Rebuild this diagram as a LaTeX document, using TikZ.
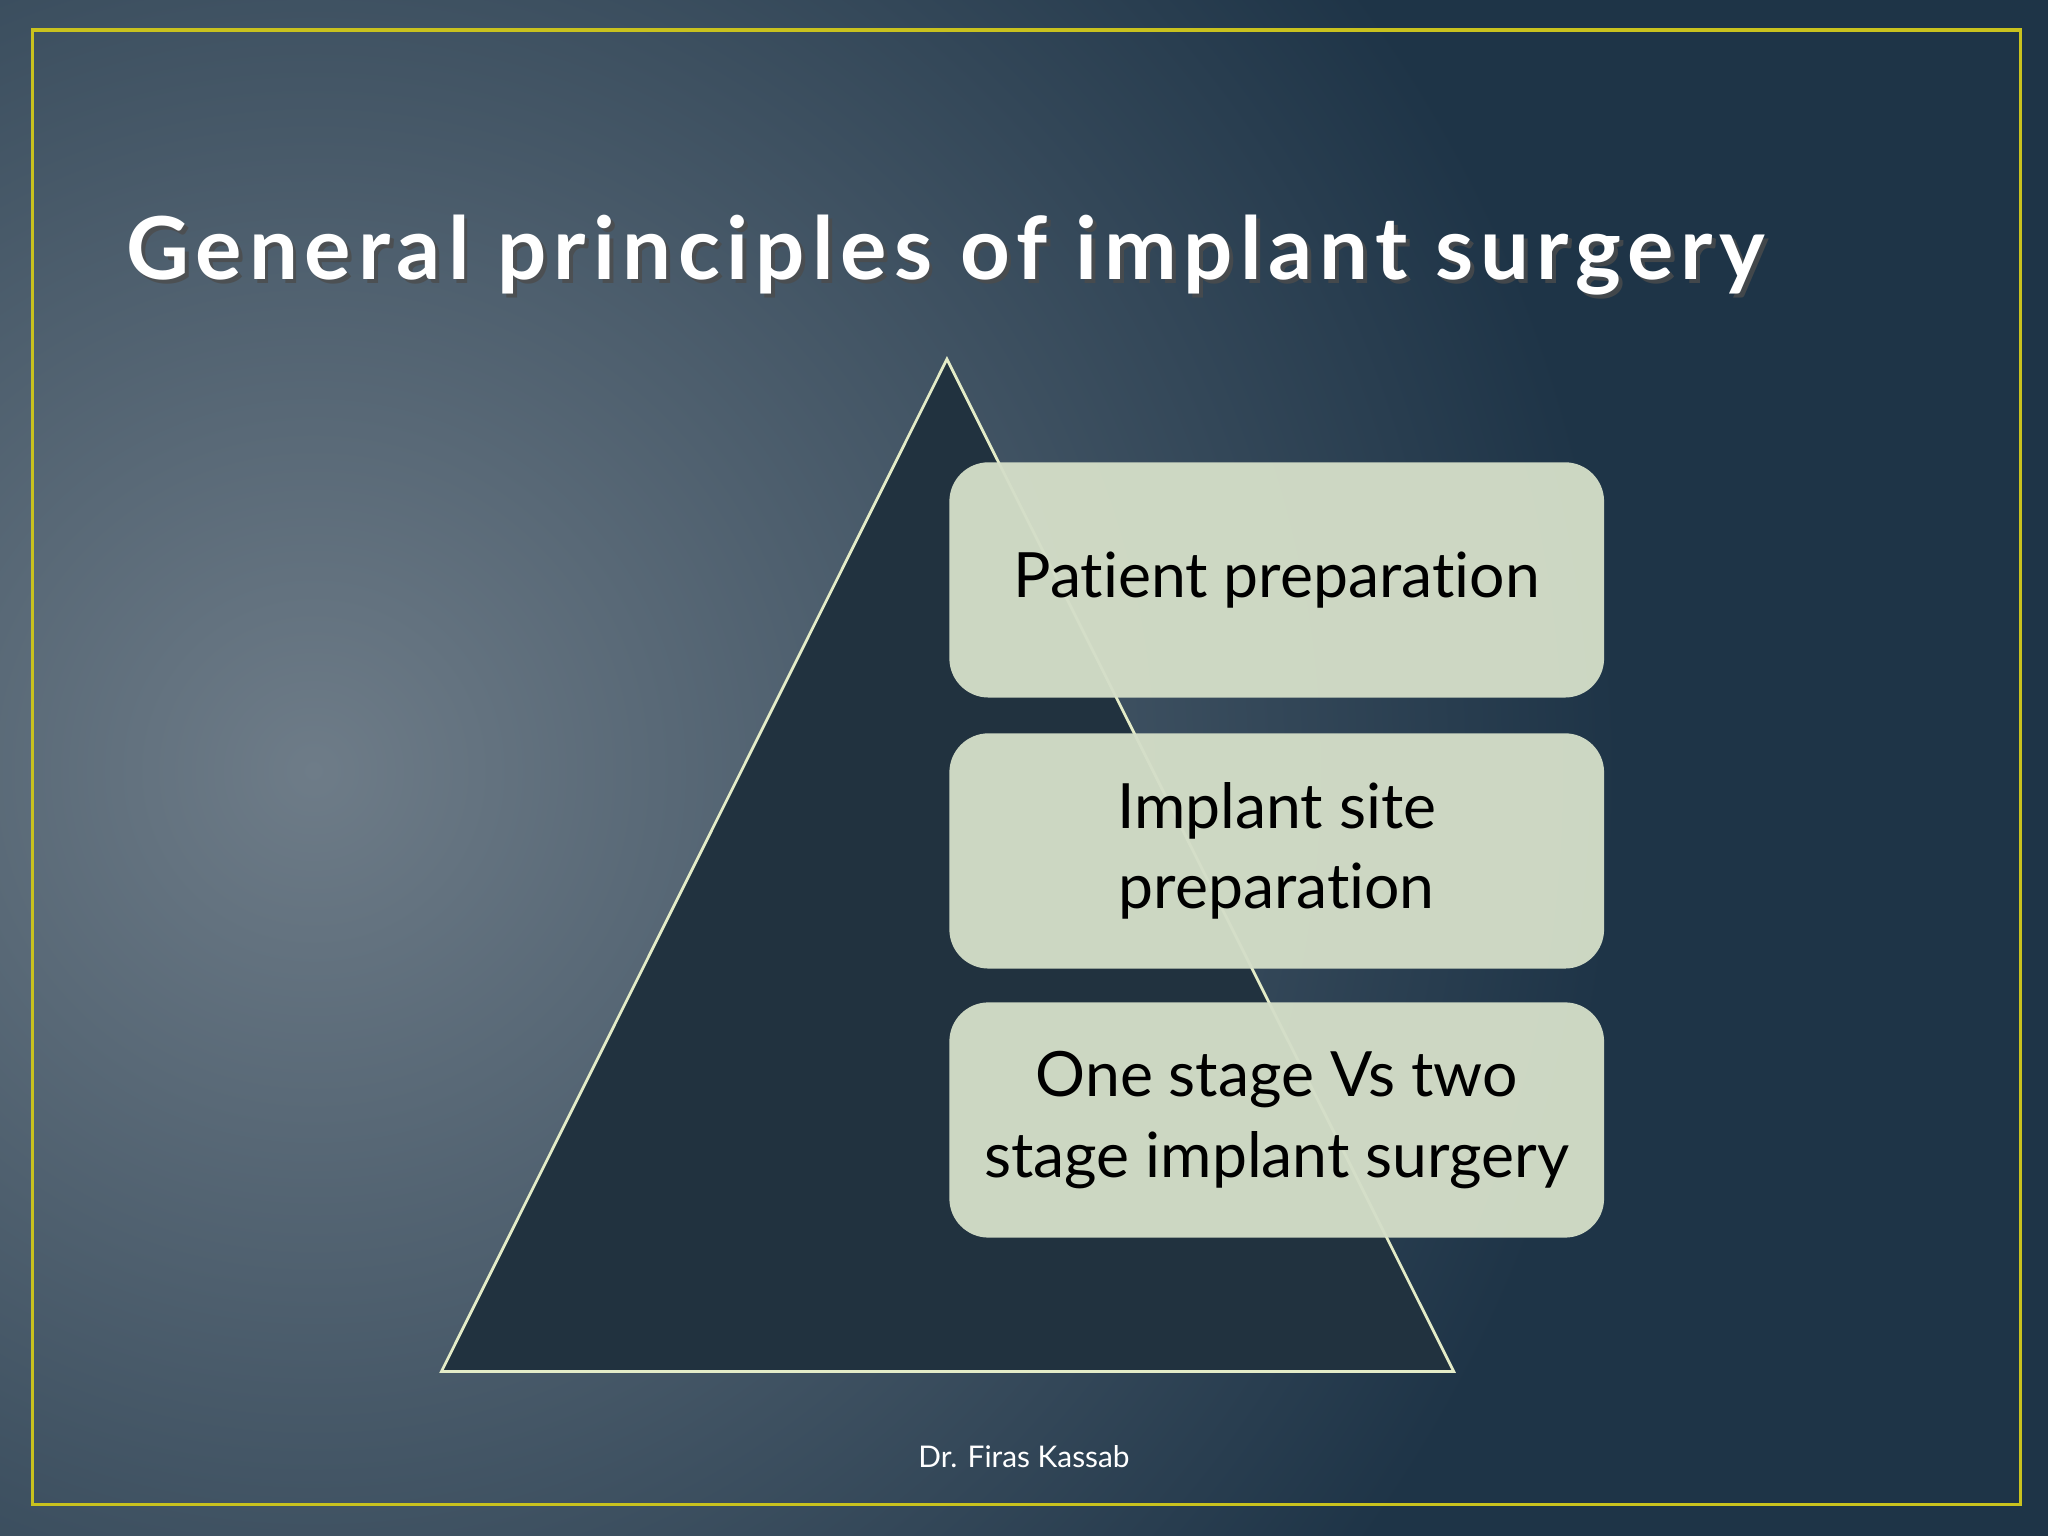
\documentclass[tikz,border=0pt]{standalone}
\usepackage{fontspec}
\setmainfont{Lato}[Ligatures={NoCommon}]
\newfontfamily\titlefont[LetterSpace=8]{Lato Bold}
\definecolor{bgdark}{HTML}{1E3447}
\definecolor{bglight}{HTML}{6E7C88}
\definecolor{frame}{HTML}{C9C21E}
\definecolor{tri}{HTML}{21323F}
\definecolor{triline}{HTML}{E4ECC8}
\definecolor{boxfill}{HTML}{D4DEC8}
\tikzset{
  stepbox/.style={draw=none, fill=boxfill, fill opacity=0.96, text opacity=1, rounded corners=0.3cm, minimum width=5.01cm, minimum height=1.8cm, inner sep=0pt, align=center, font=\fontsize{13.6}{17.5}\selectfont, text=black},
}
\begin{document}
\begin{tikzpicture}[x=0.01cm,y=-0.01cm]
\useasboundingbox (0,0) rectangle (1568,1176);
\fill[bgdark] (0,0) rectangle (1568,1176);
\begin{scope}
\clip (0,0) rectangle (1568,1176);
\shade[inner color=bglight, outer color=bgdark] (240,590) circle (1000);
\end{scope}
\draw[frame, line width=0.75pt] (25,23) rectangle (1547,1152);
\node[anchor=base west, text=black!70, text opacity=0.8, font=\titlefont\fontsize{18.9}{22}\selectfont, inner sep=0] (tshadow) at (99,217) {General principles of implant surgery};
\node[anchor=base west, text=white, font=\titlefont\fontsize{18.9}{22}\selectfont, inner sep=0] (title) at (96,214) {General principles of implant surgery};
\coordinate (apex) at (725,275);
\coordinate (bl) at (338,1050);
\coordinate (br) at (1113,1050);
\draw[fill=tri, draw=triline, line width=0.6pt] (apex) -- (bl) -- (br) -- cycle;
\node[stepbox] (b1) at (977.5,444) {Patient preparation};
\node[stepbox] (b2) at (977.5,651.5) {Implant site\\preparation};
\node[stepbox] (b3) at (977.5,857.5) {One stage Vs two\\stage implant surgery};
\node[text=white, font=\fontsize{6.5}{8}\selectfont] (foot) at (784,1115) {Dr. Firas Kassab};
\end{tikzpicture}
\end{document}
